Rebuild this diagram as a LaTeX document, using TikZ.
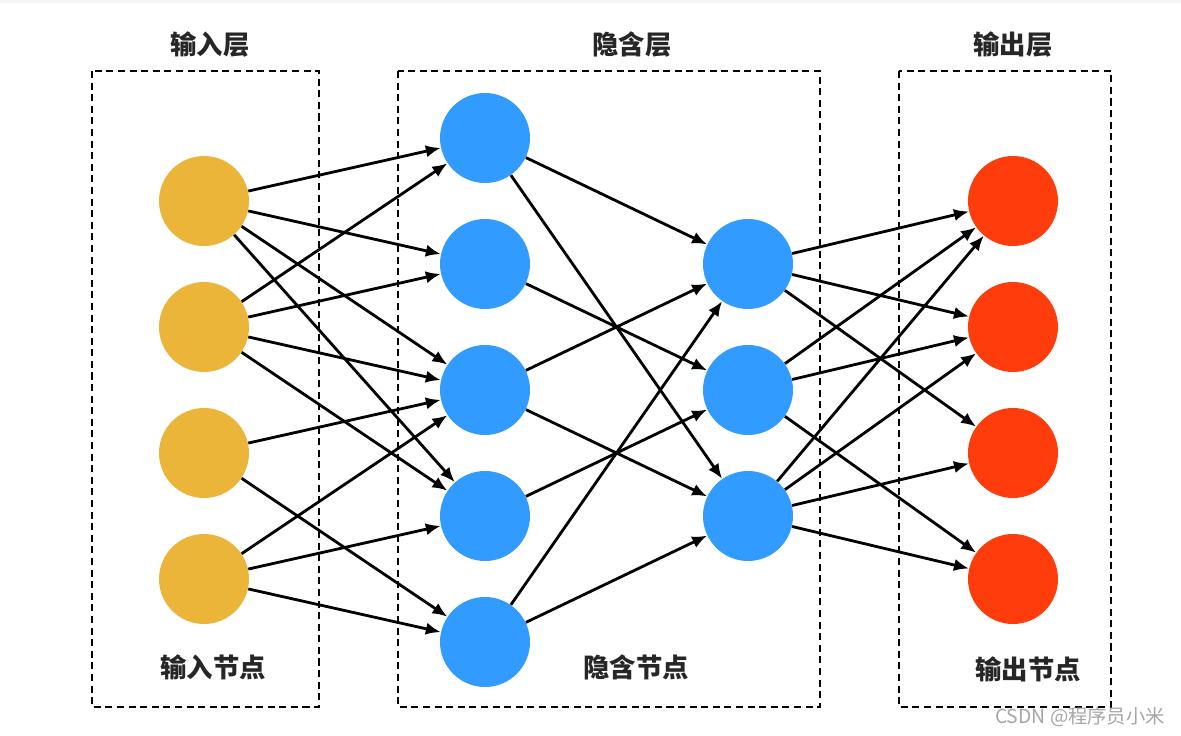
\documentclass[tikz,border=0pt]{standalone}
\usepackage{fontspec}
\setmainfont{Noto Sans CJK SC}
\usetikzlibrary{arrows.meta}
\definecolor{inyellow}{RGB}{234,181,56}
\definecolor{hidblue}{RGB}{50,155,255}
\definecolor{outred}{RGB}{255,60,12}
\begin{document}
\begin{tikzpicture}[x=0.02cm,y=-0.02cm,>={Latex[length=8.5pt,width=7pt]},
  neuron/.style={circle,minimum size=1.8cm,inner sep=0pt},
  layerbox/.style={draw,line width=1.5pt,dash pattern=on 4pt off 2.6pt},
  title/.style={font=\bfseries\fontsize{15}{18}\selectfont,text=black!85},
  link/.style={->,line width=1.6pt}]
\useasboundingbox (0,0) rectangle (1181,736);
\fill[gray!8] (0,0) rectangle (1181,3);
% dashed layer frames
\draw[layerbox] (92,71) rectangle (319,707);
\draw[layerbox] (398,71) rectangle (820,707);
\draw[layerbox] (899,71) rectangle (1111,707);
% neurons
\foreach \i in {1,...,4} \node[neuron,fill=inyellow] (in\i) at (204,{75+126*\i}) {};
\foreach \i in {1,...,5} \node[neuron,fill=hidblue] (ha\i) at (485,{12+126*\i}) {};
\foreach \i in {1,2,3} \node[neuron,fill=hidblue] (hb\i) at (748,{138+126*\i}) {};
\foreach \i in {1,...,4} \node[neuron,fill=outred] (out\i) at (1013,{75+126*\i}) {};
% connections
\foreach \a/\b in {1/1,1/2,1/3,1/4,2/1,2/2,2/3,2/4,3/3,3/5,4/3,4/4,4/5}
  \draw[link] (in\a) -- (ha\b);
\foreach \a/\b in {1/1,1/3,2/2,3/1,3/3,4/2,5/1,5/3}
  \draw[link] (ha\a) -- (hb\b);
\foreach \a/\b in {1/1,1/2,1/3,2/1,2/2,2/4,3/1,3/2,3/3,3/4}
  \draw[link] (hb\a) -- (out\b);
% texts
\node[title] (tin) at (210,45) {输入层};
\node[title] (thid) at (632,45) {隐含层};
\node[title] (tout) at (1013,45) {输出层};
\node[title] (nin) at (213,667) {输入节点};
\node[title] (nhid) at (636,667) {隐含节点};
\node[title] (nout) at (1028,669) {输出节点};
\node[font=\fontsize{11}{13}\selectfont,text=gray!70] (mark) at (1080,717) {CSDN @程序员小米};
\end{tikzpicture}
\end{document}
